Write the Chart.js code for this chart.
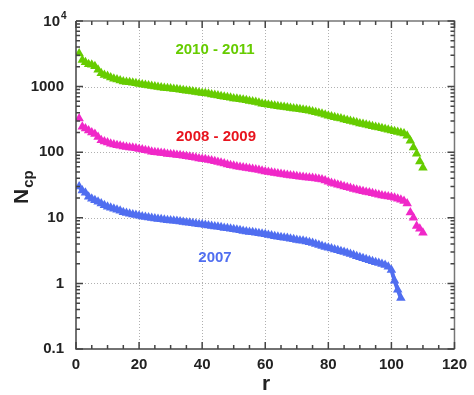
<!DOCTYPE html>
<html>
<head>
<meta charset="utf-8">
<script src="https://cdn.jsdelivr.net/npm/chart.js@4"></script>
<style>
  html, body { margin: 0; padding: 0; background: #fff; }
  #chart { display: block; }
</style>
</head>
<body>
<canvas id="chart" width="474" height="395"></canvas>
<script>
// N_cp vs rank r, one value per r = 1, 2, 3, ...
const green2010 = [
  3200, 2550, 2350, 2200, 2150, 2050, 1800, 1600, 1500, 1450,
  1380, 1320, 1280, 1240, 1200, 1180, 1160, 1140, 1120, 1100,
  1080, 1060, 1040, 1020, 1000, 985, 970, 955, 945, 935,
  920, 910, 895, 880, 865, 855, 840, 825, 810, 800,
  790, 775, 760, 745, 730, 715, 700, 690, 675, 660,
  650, 640, 630, 620, 605, 595, 580, 565, 550, 540,
  530, 520, 512, 503, 495, 487, 480, 472, 465, 458,
  450, 442, 435, 427, 418, 408, 397, 386, 372, 360,
  350, 340, 332, 325, 316, 308, 300, 292, 283, 275,
  268, 262, 255, 249, 243, 237, 231, 225, 219, 214,
  208, 203, 198, 192, 178, 150, 118, 95, 72, 58
];
const pink2008 = [
  325, 245, 230, 215, 200, 190, 170, 152, 145, 140,
  135, 131, 128, 125, 122, 120, 118, 117, 115, 112,
  110, 107, 105, 102, 100, 99, 97, 96, 94, 93,
  92, 91, 89.5, 88, 86.5, 85, 83.5, 82, 80.5, 79,
  78, 76, 74.5, 73, 71, 69, 67, 65, 63.5, 62,
  60.5, 59.5, 58.5, 57.5, 56.5, 55.5, 54.5, 53.5, 52, 51,
  50, 49, 48, 47.2, 46.4, 45.7, 45, 44.3, 43.6, 43,
  42.4, 41.8, 41.3, 40.8, 40.3, 39.8, 39.2, 38.5, 37, 35.5,
  34, 33, 32, 31, 30, 29.2, 28.4, 27.6, 26.8, 26,
  25.4, 24.8, 24.2, 23.6, 23, 22.4, 21.9, 21.5, 21.2, 20.8,
  20.2, 19.5, 18.8, 18, 16.5, 12, 10, 7.5, 6.8, 5.9
];
const blue2007 = [
  30, 26, 24, 21, 19.5, 18.5, 17.5, 16.5, 15.5, 14.8,
  14.2, 13.7, 13.3, 12.8, 12.2, 11.8, 11.5, 11.2, 11, 10.7,
  10.5, 10.3, 10.1, 9.9, 9.8, 9.6, 9.5, 9.3, 9.2, 9.1,
  9.0, 8.9, 8.75, 8.6, 8.5, 8.4, 8.25, 8.1, 8.0, 7.9,
  7.8, 7.65, 7.5, 7.4, 7.3, 7.15, 7.0, 6.9, 6.8, 6.7,
  6.6, 6.45, 6.3, 6.2, 6.1, 6.0, 5.9, 5.8, 5.7, 5.6,
  5.45, 5.35, 5.25, 5.15, 5.05, 4.95, 4.9, 4.8, 4.7, 4.6,
  4.52, 4.45, 4.35, 4.25, 4.12, 4.0, 3.85, 3.72, 3.6, 3.5,
  3.4, 3.3, 3.2, 3.1, 3.0, 2.9, 2.8, 2.7, 2.6, 2.5,
  2.42, 2.34, 2.25, 2.18, 2.1, 2.04, 1.97, 1.9, 1.8, 1.6,
  1.1, 0.8, 0.6
];

const xTicks = [0, 20, 40, 60, 80, 100, 120];
const yTicks = [0.1, 1, 10, 100, 1000, 10000];
const yTickLabels = ['0.1', '1', '10', '100', '1000', ''];
const seriesLabels = ['2010 - 2011', '2008 - 2009', '2007'];

const GREEN = 'rgb(102,204,0)';
const PINK = 'rgb(240,40,200)';
const BLUE = 'rgb(80,110,240)';
const RED = 'rgb(232,20,30)';
const FONT = 'Arial, "Liberation Sans", sans-serif';

const toPoints = (arr) => arr.map((v, i) => ({ x: i + 1, y: v }));

// frame, dotted grid, inward ticks, axis titles, in-plot labels
const frameAndLabels = {
  id: 'frameAndLabels',
  beforeDatasetsDraw(chart) {
    const { ctx, chartArea: a, scales } = chart;
    ctx.save();
    ctx.strokeStyle = '#b0b0b0';
    ctx.lineWidth = 1;
    ctx.setLineDash([1, 2]);
    [20, 40, 60, 80, 100].forEach((v) => {
      const x = Math.round(scales.x.getPixelForValue(v)) + 0.5;
      ctx.beginPath(); ctx.moveTo(x, a.top); ctx.lineTo(x, a.bottom); ctx.stroke();
    });
    [1, 10, 100, 1000].forEach((v) => {
      const y = Math.round(scales.y.getPixelForValue(v)) + 0.5;
      ctx.beginPath(); ctx.moveTo(a.left, y); ctx.lineTo(a.right, y); ctx.stroke();
    });
    ctx.restore();
  },
  afterDatasetsDraw(chart) {
    const { ctx, chartArea: a, scales } = chart;
    ctx.save();
    ctx.lineWidth = 1.5;
    ctx.strokeStyle = '#777';
    ctx.beginPath();
    ctx.moveTo(a.left, a.top); ctx.lineTo(a.right, a.top); ctx.lineTo(a.right, a.bottom);
    ctx.stroke();
    ctx.strokeStyle = '#444';
    ctx.beginPath();
    ctx.moveTo(a.left, a.top); ctx.lineTo(a.left, a.bottom); ctx.lineTo(a.right, a.bottom);
    ctx.stroke();

    ctx.beginPath();
    for (let v = 0; v <= 120; v += 5) {
      const x = scales.x.getPixelForValue(v);
      const len = v % 20 === 0 ? 7 : 4;
      ctx.moveTo(x, a.bottom); ctx.lineTo(x, a.bottom - len);
      ctx.moveTo(x, a.top); ctx.lineTo(x, a.top + len);
    }
    for (let d = 0.1; d < 10001; d *= 10) {
      for (let m = 1; m <= 9; m++) {
        const v = d * m;
        if (v > 10000 * 1.0001) break;
        const y = scales.y.getPixelForValue(v);
        const len = m === 1 ? 7 : 4;
        ctx.moveTo(a.left, y); ctx.lineTo(a.left + len, y);
        ctx.moveTo(a.right, y); ctx.lineTo(a.right - len, y);
      }
    }
    ctx.stroke();
    ctx.restore();
  },
  afterDraw(chart) {
    const { ctx, scales } = chart;
    ctx.save();
    ctx.fillStyle = '#222';
    // 10^4
    const yTop = scales.y.getPixelForValue(10000);
    ctx.font = 'bold 15px ' + FONT;
    ctx.textAlign = 'right';
    ctx.textBaseline = 'middle';
    ctx.fillText('10', 60, yTop + 1);
    ctx.textAlign = 'left';
    ctx.font = 'bold 10px ' + FONT;
    ctx.fillText('4', 61, yTop - 5);

    // y title N_cp
    ctx.save();
    ctx.translate(20, 190);
    ctx.rotate(-Math.PI / 2);
    ctx.textBaseline = 'alphabetic';
    ctx.textAlign = 'left';
    ctx.font = 'bold 21px ' + FONT;
    ctx.fillText('N', -14, 8);
    const nw = ctx.measureText('N').width;
    ctx.font = 'bold 15px ' + FONT;
    ctx.fillText('cp', -14 + nw + 1, 13);
    ctx.restore();

    // x title r
    ctx.font = 'bold 21px ' + FONT;
    ctx.textAlign = 'center';
    ctx.textBaseline = 'middle';
    ctx.fillText('r', 266, 384);

    // series labels
    ctx.font = 'bold 15px ' + FONT;
    ctx.fillStyle = GREEN;
    ctx.fillText(seriesLabels[0], 215, 50);
    ctx.fillStyle = RED;
    ctx.fillText(seriesLabels[1], 216, 137);
    ctx.fillStyle = BLUE;
    ctx.fillText(seriesLabels[2], 215, 258);
    ctx.restore();
  },
};

new Chart(document.getElementById('chart'), {
  type: 'scatter',
  data: {
    datasets: [
      {
        label: seriesLabels[0],
        data: toPoints(green2010),
        backgroundColor: GREEN,
        borderColor: GREEN,
        pointStyle: 'triangle',
        pointRadius: 5.5,
        borderWidth: 0,
        showLine: false,
      },
      {
        label: seriesLabels[1],
        data: toPoints(pink2008),
        backgroundColor: PINK,
        borderColor: PINK,
        pointStyle: 'triangle',
        pointRadius: 5.5,
        borderWidth: 0,
        showLine: false,
      },
      {
        label: seriesLabels[2],
        data: toPoints(blue2007),
        backgroundColor: BLUE,
        borderColor: BLUE,
        pointStyle: 'triangle',
        pointRadius: 5.5,
        pointBorderWidth: 0,
        borderWidth: 4,
        showLine: true,
        tension: 0,
      },
    ],
  },
  plugins: [frameAndLabels],
  options: {
    responsive: false,
    animation: false,
    devicePixelRatio: 1,
    layout: { padding: { left: 0, top: 13, right: 13, bottom: 0 } },
    plugins: {
      legend: { display: false },
      tooltip: { enabled: false },
    },
    scales: {
      x: {
        type: 'linear',
        min: 0,
        max: 120,
        afterBuildTicks: (s) => { s.ticks = xTicks.map((v) => ({ value: v })); },
        afterFit: (s) => { s.height = 46; },
        grid: { display: false, drawTicks: false },
        border: { display: false },
        ticks: {
          color: '#222',
          padding: 7,
          maxRotation: 0,
          font: { family: FONT, size: 15, weight: 'bold' },
        },
      },
      y: {
        type: 'logarithmic',
        min: 0.1,
        max: 10000,
        afterBuildTicks: (s) => { s.ticks = yTicks.map((v) => ({ value: v })); },
        afterFit: (s) => { s.width = 76; },
        grid: { display: false, drawTicks: false },
        border: { display: false },
        ticks: {
          color: '#222',
          padding: 12,
          font: { family: FONT, size: 15, weight: 'bold' },
          callback: (v) => {
            const i = yTicks.findIndex((t) => Math.abs(t - v) / t < 1e-6);
            return i >= 0 ? yTickLabels[i] : '';
          },
        },
      },
    },
  },
});
</script>
</body>
</html>
